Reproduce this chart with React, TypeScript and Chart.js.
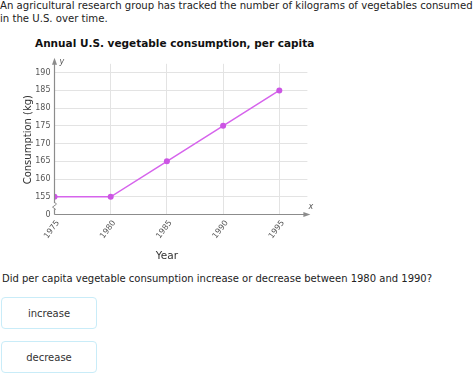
import React, { useEffect, useRef } from "react";
import { Chart, registerables } from "chart.js";

Chart.register(...registerables);

const years = [1975, 1980, 1985, 1990, 1995];
const consumption = [155, 155, 165, 175, 185];
const yTickValues = [150, 155, 160, 165, 170, 175, 180, 185, 190];
const yTickLabels = ["0", "155", "160", "165", "170", "175", "180", "185", "190"];

const FONT = "'DejaVu Sans', Verdana, sans-serif";

const decorPlugin = {
  id: "decor",
  afterDraw(chart: any) {
    const ctx = chart.ctx;
    const xs = chart.scales.x;
    const ys = chart.scales.y;
    const area = chart.chartArea;
    const axisColor = "#8c8c8c";
    ctx.save();
    ctx.strokeStyle = axisColor;
    ctx.fillStyle = axisColor;
    ctx.lineWidth = 1.2;
    const x0 = area.left;
    const y0 = area.bottom;
    ctx.beginPath();
    ctx.moveTo(x0, y0);
    ctx.lineTo(x0, area.top - 2);
    ctx.stroke();
    ctx.beginPath();
    ctx.moveTo(x0, area.top - 6);
    ctx.lineTo(x0 - 2.5, area.top + 1);
    ctx.lineTo(x0 + 2.5, area.top + 1);
    ctx.closePath();
    ctx.fill();
    ctx.beginPath();
    ctx.moveTo(x0, y0);
    ctx.lineTo(area.right, y0);
    ctx.stroke();
    ctx.beginPath();
    ctx.moveTo(area.right + 3, y0);
    ctx.lineTo(area.right - 4, y0 - 2.5);
    ctx.lineTo(area.right - 4, y0 + 2.5);
    ctx.closePath();
    ctx.fill();
    const by = (ys.getPixelForValue(150) + ys.getPixelForValue(155)) / 2 + 0.5;
    ctx.fillStyle = "#ffffff";
    ctx.fillRect(x0 - 3, by - 3, 6, 6);
    ctx.beginPath();
    ctx.lineWidth = 1;
    ctx.moveTo(x0, by - 4);
    ctx.lineTo(x0 + 2, by - 2);
    ctx.lineTo(x0 - 2, by + 1);
    ctx.lineTo(x0 + 1, by + 3);
    ctx.lineTo(x0, by + 4);
    ctx.stroke();
    ctx.fillStyle = "#555";
    ctx.font = "italic 8px " + FONT;
    ctx.textAlign = "left";
    ctx.textBaseline = "middle";
    ctx.fillText("y", x0 + 5, area.top - 2);
    ctx.fillText("x", area.right + 1, y0 - 8);
    ctx.fillStyle = "#333";
    ctx.font = "10.5px " + FONT;
    ctx.textAlign = "center";
    ctx.textBaseline = "middle";
    ctx.fillText("Year", xs.getPixelForValue(1985), 201);
    ctx.font = "10px " + FONT;
    ctx.save();
    ctx.translate(28, (area.top + area.bottom) / 2 + 0.5);
    ctx.rotate(-Math.PI / 2);
    ctx.fillText("Consumption (kg)", 0, 0);
    ctx.restore();
    ctx.restore();
  },
};

function LineChart() {
  const ref = useRef<HTMLCanvasElement>(null);
  useEffect(() => {
    if (!ref.current) return;
    const chart = new Chart(ref.current, {
      type: "line",
      data: {
        datasets: [
          {
            data: years.map((yr, i) => ({ x: yr, y: consumption[i] })),
            borderColor: "#d664ec",
            borderWidth: 1.5,
            pointRadius: 3,
            pointBackgroundColor: "#cc55e4",
            pointBorderWidth: 0,
            tension: 0,
          },
        ],
      },
      options: {
        animation: false,
        responsive: false,
        devicePixelRatio: 1,
        layout: { padding: { top: 8.5, right: 12.6, left: 0, bottom: 0 } },
        plugins: { legend: { display: false }, tooltip: { enabled: false }, title: { display: false } },
        scales: {
          x: {
            type: "linear",
            min: 1975,
            max: 1997.5,
            afterFit: (s: any) => {
              s.height = 55.5;
            },
            afterBuildTicks: (s: any) => {
              s.ticks = years.map((v) => ({ value: v }));
            },
            ticks: {
              autoSkip: false,
              minRotation: 53,
              maxRotation: 53,
              padding: 4,
              labelOffset: 3.5,
              color: "#555",
              font: { family: FONT, size: 8 },
              callback: (v: any) => String(v),
            },
            grid: { color: "#e3e3e3", drawTicks: false, lineWidth: 1 },
            border: { display: false },
          },
          y: {
            type: "linear",
            min: 150,
            max: 192.5,
            afterFit: (s: any) => {
              s.width = 54.5;
            },
            afterBuildTicks: (s: any) => {
              s.ticks = yTickValues.map((v) => ({ value: v }));
            },
            ticks: {
              padding: 4,
              color: "#555",
              font: { family: FONT, size: 8 },
              callback: (v: any) => {
                const i = yTickValues.indexOf(Number(v));
                return i >= 0 ? yTickLabels[i] : "";
              },
            },
            grid: {
              color: (c: any) => (c.tick && c.tick.value === 150 ? "rgba(0,0,0,0)" : "#e3e3e3"),
              drawTicks: false,
              lineWidth: 1,
            },
            border: { display: false },
          },
        },
      },
      plugins: [decorPlugin],
    } as any);
    return () => chart.destroy();
  }, []);
  return <canvas ref={ref} width={320} height={215} style={{ width: 320, height: 215, display: "block" }} />;
}

const btn: React.CSSProperties = {
  position: "absolute",
  left: 1,
  width: 94,
  height: 30,
  border: "1.5px solid #c9ecf8",
  borderRadius: 4,
  boxSizing: "content-box",
  display: "flex",
  alignItems: "center",
  justifyContent: "center",
  fontSize: 10,
  color: "#333",
  background: "#fff",
};

export default function App() {
  useEffect(() => {
    document.body.style.margin = "0";
  }, []);
  return (
    <div style={{ position: "relative", width: 474, height: 375, overflow: "hidden", fontFamily: FONT, color: "#222", background: "#fff" }}>
      <div style={{ position: "absolute", left: 0, top: -1, width: 490, fontSize: 10.15, lineHeight: "13px", whiteSpace: "nowrap" }}>
        An agricultural research group has tracked the number of kilograms of vegetables consumed
        <br />
        in the U.S. over time.
      </div>
      <div style={{ position: "absolute", left: 35, top: 37, fontSize: 10.5, fontWeight: "bold", whiteSpace: "nowrap", color: "#111" }}>
        Annual U.S. vegetable consumption, per capita
      </div>
      <div style={{ position: "absolute", left: 0, top: 55 }}>
        <LineChart />
      </div>
      <div style={{ position: "absolute", left: 2, top: 273, fontSize: 10, whiteSpace: "nowrap" }}>
        Did per capita vegetable consumption increase or decrease between 1980 and 1990?
      </div>
      <div style={{ ...btn, top: 297 }}>increase</div>
      <div style={{ ...btn, top: 341 }}>decrease</div>
    </div>
  );
}
